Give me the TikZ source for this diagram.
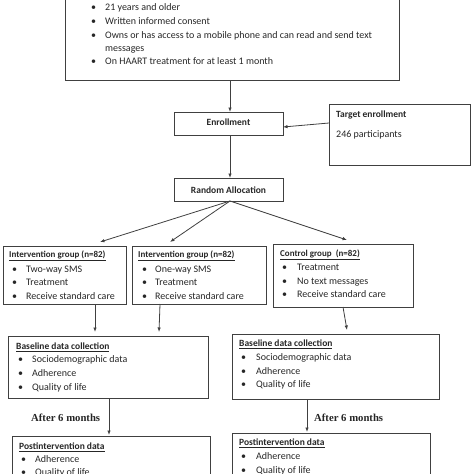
\documentclass[tikz,border=0pt]{standalone}
\usepackage{fontspec}
\setmainfont{Carlito}
\newfontfamily\timesf{Liberation Serif}
\usetikzlibrary{arrows.meta,calc}
\begin{document}
\begin{tikzpicture}[x=1pt,y=-1pt,
 box/.style={draw=black!75,line width=0.8pt,anchor=north west,inner sep=0pt,outer sep=0pt},
 arr/.style={draw=black!75,line width=0.8pt,-{Latex[length=4.5pt,width=3.5pt]}},
 txt/.style={anchor=base west,inner sep=0pt,font=\fontsize{10}{12}\selectfont,text=black!85},
 ttl/.style={txt,font=\fontsize{9.5}{11}\selectfont\bfseries},
 gttl/.style={txt,font=\fontsize{9}{11}\selectfont\bfseries},
 ctr/.style={anchor=base,inner sep=0pt,font=\fontsize{9.5}{11}\selectfont\bfseries,text=black!85},
 aft/.style={anchor=base west,inner sep=0pt,font=\fontsize{10.7}{12}\selectfont\timesf\bfseries,text=black!85}]
\useasboundingbox (0,0) rectangle (474,474);
\clip (0,0) rectangle (474,474);
% boxes
\node[box,minimum width=334pt,minimum height=100pt] (top) at (65,-20) {};
\node[box,minimum width=109pt,minimum height=23pt] (enroll) at (174,112) {};
\node[box,minimum width=141pt,minimum height=61pt] (target) at (329,104) {};
\node[box,minimum width=109pt,minimum height=23pt] (random) at (174,178) {};
\node[box,minimum width=123pt,minimum height=58pt] (int1) at (3,246) {};
\node[box,minimum width=134pt,minimum height=58pt] (int2) at (132,246) {};
\node[box,minimum width=140pt,minimum height=63pt] (ctrl) at (273,244) {};
\node[box,minimum width=200pt,minimum height=62pt] (base1) at (8,336) {};
\node[box,minimum width=207pt,minimum height=65pt] (base2) at (232,334) {};
\node[box,minimum width=198pt,minimum height=64pt] (post1) at (12,436) {};
\node[box,minimum width=198pt,minimum height=67pt] (post2) at (232,433) {};
% top box text
\foreach \y/\t [count=\i] in {10.8/21 years and older,24.8/Written informed consent,38.2/Owns or has access to a mobile phone  and can read and send text,64.8/On HAART treatment for at least 1 month}{
  \node[txt] (tb\i) at (91,\y) {\textbullet};
  \node[txt] (tt\i) at (105,\y) {\t};
}
\node[txt] (tt5) at (105,51.5) {messages};
% enrollment etc
\node[ctr] (enrollT) at (228.5,125.5) {Enrollment};
\node[ttl] (targetT) at (336,117.5) {Target enrollment};
\node[txt] (targetN) at (336,137.5) {246 participants};
\node[ctr] (randomT) at (228.5,193) {Random Allocation};
% groups
\node[gttl] (int1T) at (9,257.5) {\underline{Intervention group (n=82)}};
\foreach \y/\t [count=\i] in {272.5/Two-way SMS,285.5/Treatment,299.5/Receive standard care}{
  \node[txt] (i1b\i) at (12,\y) {\textbullet};
  \node[txt] (i1t\i) at (26,\y) {\t};
}
\node[gttl] (int2T) at (138,257.5) {\underline{Intervention group (n=82)}};
\foreach \y/\t [count=\i] in {272.5/One-way SMS,285.5/Treatment,299.5/Receive standard care}{
  \node[txt] (i2b\i) at (142,\y) {\textbullet};
  \node[txt] (i2t\i) at (155,\y) {\t};
}
\node[gttl] (ctrlT) at (280,256.5) {\underline{Control group\ \ (n=82)}};
\foreach \y/\t [count=\i] in {270.5/Treatment,284.5/No text messages,297.5/Receive standard care}{
  \node[txt] (cb\i) at (282,\y) {\textbullet};
  \node[txt] (ct\i) at (297,\y) {\t};
}
% baseline
\node[ttl] (base1T) at (16,349.5) {\underline{Baseline data collection}};
\foreach \y/\t [count=\i] in {362.5/Sociodemographic data,376.5/Adherence,390.5/Quality of life}{
  \node[txt] (b1b\i) at (18,\y) {\textbullet};
  \node[txt] (b1t\i) at (32,\y) {\t};
}
\node[ttl] (base2T) at (239,346.5) {\underline{Baseline data collection}};
\foreach \y/\t [count=\i] in {360.5/Sociodemographic data,374.5/Adherence,387.5/Quality of life}{
  \node[txt] (b2b\i) at (241,\y) {\textbullet};
  \node[txt] (b2t\i) at (256,\y) {\t};
}
% after
\node[aft] (aft1) at (31,421) {After 6 months};
\node[aft] (aft2) at (314,421) {After 6 months};
% post
\node[ttl] (post1T) at (19,449.5) {\underline{Postintervention data}};
\foreach \y/\t [count=\i] in {462.5/Adherence,475.5/Quality of life}{
  \node[txt] (p1b\i) at (21,\y) {\textbullet};
  \node[txt] (p1t\i) at (35,\y) {\t};
}
\node[ttl] (post2T) at (239,445.5) {\underline{Postintervention data}};
\foreach \y/\t [count=\i] in {459.5/Adherence,473.5/Quality of life}{
  \node[txt] (p2b\i) at (241,\y) {\textbullet};
  \node[txt] (p2t\i) at (256,\y) {\t};
}
% connectors
\coordinate (enrIn) at ($(enroll.north)+(1.5,0)$);
\draw[arr] (top.south -| enrIn) -- (enrIn);
\draw[arr] ($(target.north west)+(0,19)$) -- ($(enroll.east)+(0,3.5)$);
\draw[arr] (enroll.south -| enrIn) -- (random.north -| enrIn);
\coordinate (rOut) at ($(random.south)+(1.5,0)$);
\draw[arr] (rOut) -- ($(int1.north west)+(97,-4)$);
\draw[arr] (rOut) -- ($(int2.north west)+(38,-4)$);
\draw[arr] (rOut) -- ($(ctrl.north west)+(74,-4)$);
\draw[arr] ($(int1.south west)+(92,0)$) -- ($(base1.north west)+(87,-4)$);
\draw[arr] ($(int2.south west)+(28,0)$) -- ($(base1.north west)+(151,-4)$);
\draw[arr] ($(ctrl.south west)+(70,0)$) -- ($(base2.north west)+(115,-4)$);
\draw[arr] ($(base1.south west)+(101,0)$) -- ($(post1.north west)+(97,-1)$);
\draw[arr] ($(base2.south west)+(75,0)$) -- ($(post2.north west)+(75,-1)$);
\end{tikzpicture}
\end{document}
